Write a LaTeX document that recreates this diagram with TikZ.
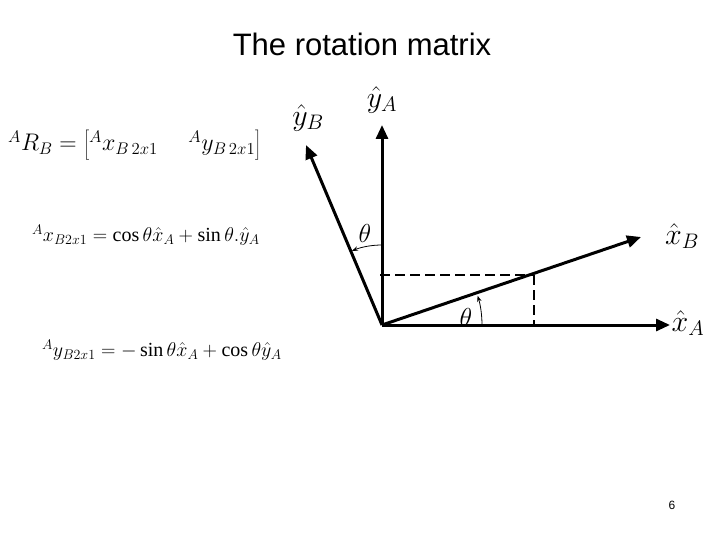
\RequirePackage{fix-cm}
\documentclass[tikz,border=0pt]{standalone}
\usepackage{fontspec}
\setmainfont{Liberation Serif}
\newfontfamily\titlefont{Liberation Sans}
\usetikzlibrary{arrows.meta}
\begin{document}
\begin{tikzpicture}[x=1pt,y=-1pt,
  vec/.style={line width=3pt,-{Triangle[length=14pt,width=12pt]}},
  dsh/.style={line width=1.5pt,dash pattern=on 10pt off 5pt},
  lab/.style={inner sep=0pt,font=\fontsize{30}{32}\selectfont},
  th/.style={inner sep=0pt,font=\fontsize{26}{28}\selectfont},
  eq/.style={anchor=west,inner sep=0pt,font=\fontsize{20}{22}\selectfont}]
\fill[white] (0,0) rectangle (720,540);
\useasboundingbox (0,0) rectangle (720,540);
\node[font=\titlefont\fontsize{31}{34}\selectfont] (title) at (362,44) {The rotation matrix};
\coordinate (O) at (382,325);
\coordinate (yA) at (382,125);
\coordinate (xA) at (670,325);
\coordinate (xB) at (641,237);
\coordinate (yB) at (306,145);
\coordinate (P) at (534,275);
\coordinate (Q) at (534,325);
\coordinate (R) at (380,275);
\draw[dsh] (R) -- (P);
\draw[dsh] (P) -- (Q);
\draw[vec] (O) -- (yA);
\draw[vec] (O) -- (xA);
\draw[vec] (O) -- (xB);
\draw[vec] (O) -- (yB);
\draw[line width=0.8pt,-{Stealth[length=6pt]}] (382,245) arc[start angle=-90,end angle=-112,radius=80];
\draw[line width=0.8pt,-{Stealth[length=6pt]}] (482,325) arc[start angle=0,end angle=-17,radius=100];
\node[lab] (lyB) at (308,118) {$\hat{y}_B$};
\node[lab] (lyA) at (382,100) {$\hat{y}_A$};
\node[lab] (lxB) at (682,236) {$\hat{x}_B$};
\node[lab] (lxA) at (688,323) {$\hat{x}_A$};
\node[th] (t1) at (365,233) {$\theta$};
\node[th] (t2) at (466,317) {$\theta$};
\node[eq,font=\fontsize{24}{26}\selectfont] (e1) at (8,145) {$^{A}R_B=\left[{}^{A}x_{B\,2x1}\quad\;{}^{A}y_{B\,2x1}\right]$};
\node[eq] (e2) at (32,235) {$^{A}x_{B2x1}=\cos\theta\hat{x}_A+\sin\theta.\hat{y}_A$};
\node[eq] (e3) at (42,350) {$^{A}y_{B2x1}=-\sin\theta\hat{x}_A+\cos\theta\hat{y}_A$};
\node[font=\titlefont\fontsize{12}{14}\selectfont] (pg) at (672,505) {6};
\end{tikzpicture}
\end{document}
